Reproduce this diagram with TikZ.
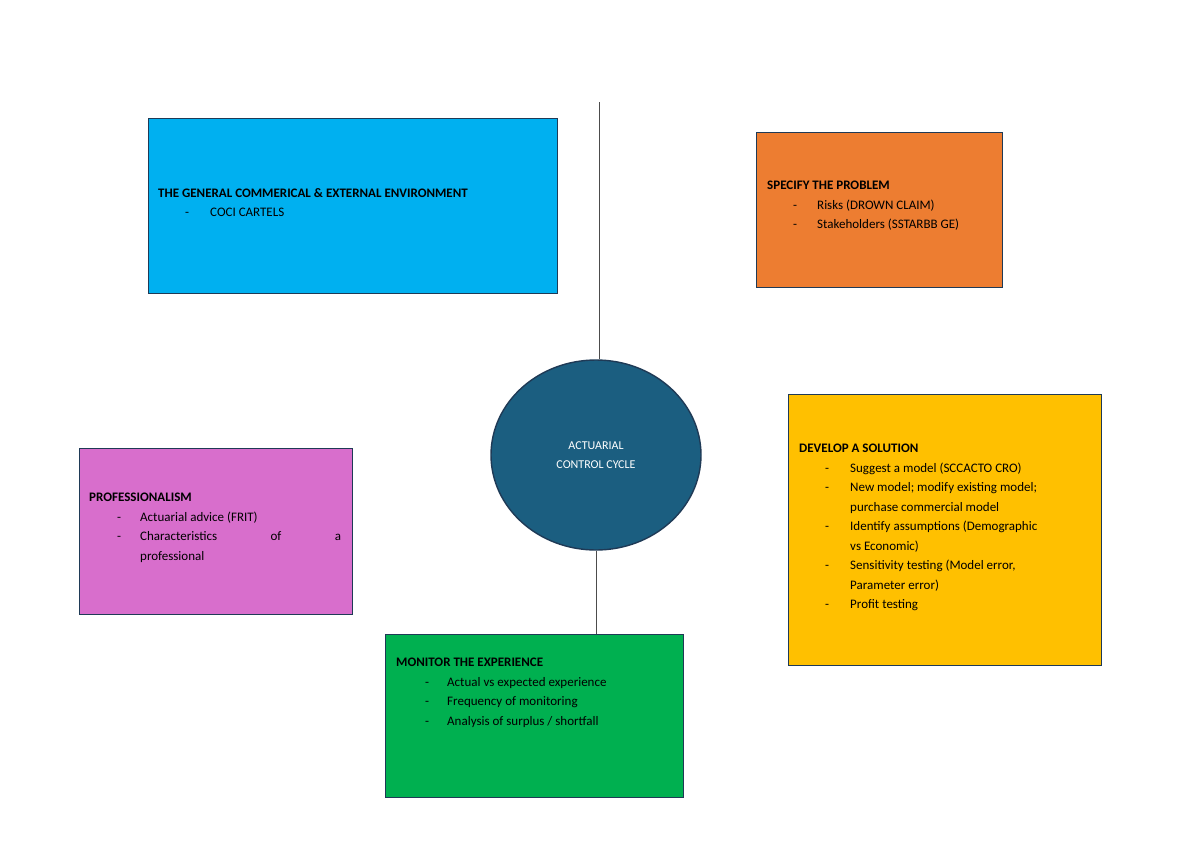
\documentclass[tikz,border=0pt]{standalone}
\usepackage{fontspec}
\setmainfont{Carlito}
\usetikzlibrary{shapes.geometric}
\definecolor{bord}{HTML}{1F3A56}
\definecolor{cblue}{HTML}{00B0F0}
\definecolor{corange}{HTML}{ED7D31}
\definecolor{cyellow}{HTML}{FFC000}
\definecolor{cpurple}{HTML}{D86ECC}
\definecolor{cgreen}{HTML}{00B050}
\definecolor{cell}{HTML}{1B5E80}
\newcommand{\itm}[3]{\hspace*{#1pt}\makebox[#2pt][l]{-}#3}
\newcommand{\cont}[1]{\hspace*{#1pt}}
\tikzset{box/.style={draw=bord,line width=1.4pt},
 txt/.style={anchor=north west,inner sep=0pt,align=left,font=\fontsize{13}{19.5}\selectfont}}
\begin{document}
\begin{tikzpicture}[x=1pt,y=-1pt]
\useasboundingbox (0,0) rectangle (1200,849);
\node[box,fill=cblue,minimum width=409pt,minimum height=175pt,anchor=north west] (env) at (148,118) {};
\node[box,fill=corange,minimum width=246pt,minimum height=155pt,anchor=north west] (spec) at (756,132) {};
\node[box,fill=cyellow,minimum width=313pt,minimum height=271pt,anchor=north west] (dev) at (788,394) {};
\node[box,fill=cpurple,minimum width=273pt,minimum height=166pt,anchor=north west] (prof) at (79,448) {};
\node[box,fill=cgreen,minimum width=298pt,minimum height=163pt,anchor=north west] (mon) at (385,634) {};
\node[ellipse,draw=bord,line width=1.4pt,fill=cell,minimum width=210pt,minimum height=190pt,text=white,align=center,font=\fontsize{12}{19}\selectfont] (cyc) at (596,455) {ACTUARIAL\\CONTROL CYCLE};
\coordinate (top) at (599,102);
\draw[line width=1pt,draw=black!70] (top) -- (top |- cyc.north);
\draw[line width=1pt,draw=black!70] (cyc.south) -- (cyc.south |- mon.north);

\node[txt] (t1) at (158,188) {\textbf{THE GENERAL COMMERICAL \& EXTERNAL ENVIRONMENT}\\\itm{27}{25}{COCI CARTELS}};
\node[txt] (t2) at (767,181) {\textbf{SPECIFY THE PROBLEM}\\\itm{26}{24}{Risks (DROWN CLAIM)}\\\itm{26}{24}{Stakeholders (SSTARBB GE)}};
\node[txt] (t3) at (799,444) {\textbf{DEVELOP A SOLUTION}\\\itm{26}{25}{Suggest a model (SCCACTO CRO)}\\\itm{26}{25}{New model; modify existing model;}\\\cont{51}purchase commercial model\\\itm{26}{25}{Identify assumptions (Demographic}\\\cont{51}vs Economic)\\\itm{26}{25}{Sensitivity testing (Model error,}\\\cont{51}Parameter error)\\\itm{26}{25}{Profit testing}};
\node[txt] (t4) at (89,493) {\textbf{PROFESSIONALISM}\\\itm{28}{23}{Actuarial advice (FRIT)}\\\itm{28}{23}{\makebox[201pt][l]{Characteristics\hfill of\hfill a}}\\\cont{51}professional};
\node[txt] (t5) at (396,658) {\textbf{MONITOR THE EXPERIENCE}\\\itm{29}{22}{Actual vs expected experience}\\\itm{29}{22}{Frequency of monitoring}\\\itm{29}{22}{Analysis of surplus / shortfall}};
\end{tikzpicture}
\end{document}
